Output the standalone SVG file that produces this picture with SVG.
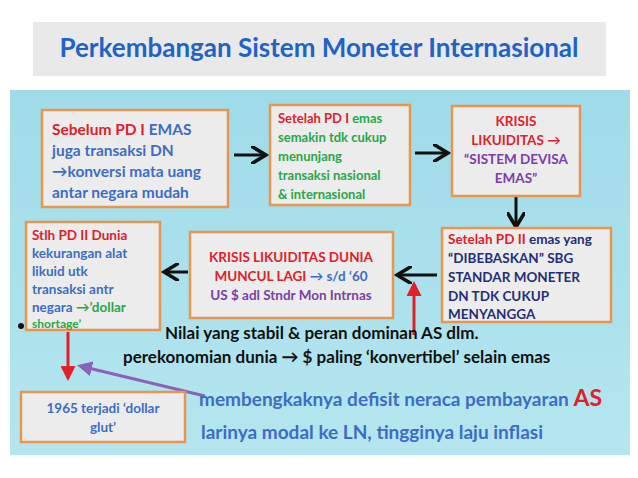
<svg xmlns="http://www.w3.org/2000/svg" width="638" height="478" viewBox="0 0 638 478">
<defs>
<style>
.t{font-family:Lato,"Liberation Sans",sans-serif;font-weight:bold}
.box{fill:#ececec;stroke:#e8964f;stroke-width:2.5}
.r{fill:#e0202a}.b{fill:#3d6cc4}.g{fill:#27a84a}.p{fill:#7a3fa8}.n{fill:#1f2f7a}.k{fill:#111}
</style>
<marker id="ak" markerWidth="6" markerHeight="6" refX="4" refY="3" orient="auto"><path d="M0,0 L5,3 L0,6" fill="none" stroke="#111" stroke-width="1.2"/></marker>
<marker id="ar" markerWidth="5" markerHeight="5" refX="4" refY="2.5" orient="auto"><path d="M0,0 L5,2.5 L0,5Z" fill="#e0202a"/></marker>
<marker id="ap" markerWidth="5" markerHeight="5" refX="4" refY="2.5" orient="auto"><path d="M0,0 L5,2.5 L0,5Z" fill="#8a63b8"/></marker>
<linearGradient id="bg" x1="0" y1="0" x2="0" y2="1"><stop offset="0" stop-color="#9fdbe8"/><stop offset="1" stop-color="#b5e6ef"/></linearGradient>
</defs>
<rect width="638" height="478" fill="#fff"/>
<rect x="10" y="90" width="620" height="365" fill="url(#bg)"/>
<g id="title"><rect x="33" y="22" width="573" height="54" fill="#e9e9e9"/>
<text class="t" x="319" y="57" font-size="26" text-anchor="middle" fill="#1f63c6">Perkembangan Sistem Moneter Internasional</text></g>
<g id="connectors" stroke-width="3" fill="none">
<line x1="234" y1="155" x2="263" y2="155" stroke="#111" marker-end="url(#ak)"/>
<line x1="415" y1="153" x2="445" y2="153" stroke="#111" marker-end="url(#ak)"/>
<line x1="516" y1="196" x2="516" y2="224" stroke="#111" marker-end="url(#ak)"/>
<line x1="437" y1="275" x2="400" y2="275" stroke="#111" marker-end="url(#ak)"/>
<line x1="188" y1="272" x2="167" y2="272" stroke="#111" marker-end="url(#ak)"/>
<line x1="414" y1="335" x2="414" y2="284" stroke="#e0202a" marker-end="url(#ar)"/>
<line x1="68" y1="332" x2="68" y2="378" stroke="#e0202a" marker-end="url(#ar)"/>
<line x1="205" y1="396" x2="80" y2="366" stroke="#8a63b8" marker-end="url(#ap)"/>
</g>
<g id="n1"><rect class="box" x="42" y="110" width="186" height="97"/>
<text class="t" font-size="15.5"><tspan x="52" y="135" class="r">Sebelum PD I <tspan class="b">EMAS</tspan></tspan><tspan x="52" y="156" class="b">juga transaksi DN</tspan><tspan x="52" y="177" class="b">→konversi mata uang</tspan><tspan x="52" y="198" class="b">antar negara mudah</tspan></text></g>
<g id="n2"><rect class="box" x="270" y="105" width="140" height="100"/>
<text class="t" font-size="13"><tspan x="278" y="123" class="r">Setelah PD I <tspan class="g">emas</tspan></tspan><tspan x="278" y="142" class="g">semakin tdk cukup</tspan><tspan x="278" y="161" class="g">menunjang</tspan><tspan x="278" y="180" class="g">transaksi nasional</tspan><tspan x="278" y="199" class="g">&amp; internasional</tspan></text></g>
<g id="n3"><rect class="box" x="452" y="106" width="128" height="90"/>
<text class="t" font-size="13.5" text-anchor="middle"><tspan x="516" y="126" class="r">KRISIS</tspan><tspan x="516" y="145" class="r">LIKUIDITAS  →</tspan><tspan x="516" y="164" class="p">“SISTEM DEVISA</tspan><tspan x="516" y="183" class="p">EMAS”</tspan></text></g>
<g id="n4"><rect class="box" x="442" y="228" width="169" height="94"/>
<text class="t" font-size="13.5"><tspan x="448" y="244" class="r">Setelah PD II <tspan class="n">emas yang</tspan></tspan><tspan x="448" y="263" class="n">“DIBEBASKAN” SBG</tspan><tspan x="448" y="282" class="n">STANDAR MONETER</tspan><tspan x="448" y="301" class="n">DN TDK CUKUP</tspan><tspan x="448" y="319" class="n">MENYANGGA</tspan></text></g>
<g id="n5"><rect class="box" x="190" y="232" width="203" height="86"/>
<text class="t" font-size="13.5" text-anchor="middle"><tspan x="291" y="262" class="r">KRISIS LIKUIDITAS DUNIA</tspan><tspan x="291" y="281" class="r">MUNCUL LAGI <tspan class="b">→  s/d ‘60</tspan></tspan><tspan x="291" y="300" class="p">US $ adl Stndr Mon Intrnas</tspan></text></g>
<g id="n6"><rect class="box" x="26" y="222" width="134" height="108"/>
<text class="t" font-size="13.5"><tspan x="32" y="240" class="r">Stlh PD II  Dunia</tspan><tspan x="32" y="258" class="b">kekurangan alat</tspan><tspan x="32" y="276" class="b">likuid utk</tspan><tspan x="32" y="294" class="b">transaksi antr</tspan><tspan x="32" y="312" class="b">negara <tspan class="g">→’dollar</tspan></tspan><tspan x="32" y="328" class="g" font-size="12">shortage’</tspan></text></g>
<circle cx="21" cy="326" r="3" fill="#111"/>
<g id="n7"><rect class="box" x="21" y="392" width="164" height="50"/>
<text class="t" font-size="13.5" text-anchor="middle" font-weight="normal"><tspan x="103" y="413" class="b">1965 terjadi ‘dollar</tspan><tspan x="103" y="432" class="b">glut’</tspan></text></g>
<g id="notes">
<text class="t k" x="165" y="339" font-size="17">Nilai yang stabil &amp; peran dominan AS dlm.</text>
<text class="t k" x="123" y="363" font-size="17">perekonomian dunia → $ paling ‘konvertibel’  selain emas</text>
<text class="t b" x="199" y="406" font-size="19">membengkaknya defisit neraca pembayaran <tspan class="r" font-size="23">AS</tspan></text>
<text class="t b" x="201" y="439" font-size="19">larinya modal ke LN, tingginya laju inflasi</text>
</g>
</svg>
